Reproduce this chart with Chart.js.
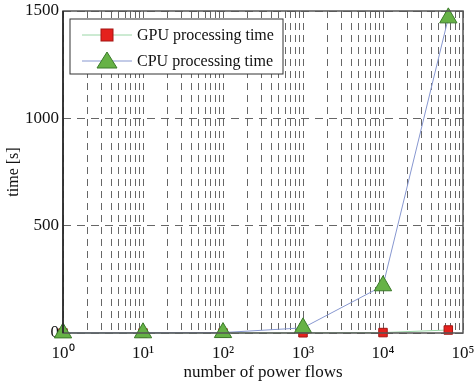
<!DOCTYPE html>
<html>
<head>
<meta charset="utf-8">
<script src="https://cdn.jsdelivr.net/npm/chart.js@4/dist/chart.umd.min.js"></script>
<style>
    html, body { margin: 0; padding: 0; background: #fff; }
    #wrap { width: 474px; height: 385px; }
</style>
</head>
<body>
<div id="wrap"><canvas id="timeChart" width="474" height="385"></canvas></div>
<script>
// Processing time vs number of power flows
const powerFlows = [1, 10, 100, 1000, 10000, 65536];
const gpuTime = [0.2, 0.3, 0.5, 1, 2, 14];
const cpuTime = [0.5, 1, 2, 24, 220, 1468];
const seriesNames = ['GPU processing time', 'CPU processing time'];
const yTicks = [0, 500, 1000, 1500];
const xTickLabels = ['10\u2070', '10\u00b9', '10\u00b2', '10\u00b3', '10\u2074', '10\u2075'];

const serif = '"Liberation Serif", "Times New Roman", serif';

// frame round the plot area + boxed legend inside it
const framePlugin = {
    id: 'frame',
    afterDraw(chart) {
        const ctx = chart.ctx;
        const a = chart.chartArea;
        ctx.save();
        ctx.strokeStyle = '#555';
        ctx.lineWidth = 1.5;
        ctx.strokeRect(a.left, a.top, a.right - a.left, a.bottom - a.top);
        ctx.strokeStyle = '#222';
        ctx.beginPath();
        ctx.moveTo(a.left, a.top);
        ctx.lineTo(a.left, a.bottom);
        ctx.stroke();

        // legend
        const lx = a.left + 7, ly = a.top + 8, lw = 213, lh = 55;
        ctx.fillStyle = '#fff';
        ctx.fillRect(lx, ly, lw, lh);
        ctx.strokeStyle = '#333';
        ctx.lineWidth = 1;
        ctx.strokeRect(lx, ly, lw, lh);
        chart.data.datasets.forEach((ds, i) => {
            const y = ly + 16 + i * 26;
            ctx.strokeStyle = ds.borderColor;
            ctx.lineWidth = 1;
            ctx.beginPath();
            ctx.moveTo(lx + 12, y);
            ctx.lineTo(lx + 62, y);
            ctx.stroke();
            ctx.fillStyle = ds.pointBackgroundColor;
            ctx.strokeStyle = ds.pointBorderColor;
            const cx = lx + 37;
            if (ds.pointStyle === 'rect') {
                ctx.fillRect(cx - 6, y - 6, 12, 12);
                ctx.strokeRect(cx - 6, y - 6, 12, 12);
            } else {
                ctx.beginPath();
                ctx.moveTo(cx, y - 9);
                ctx.lineTo(cx + 10, y + 7);
                ctx.lineTo(cx - 10, y + 7);
                ctx.closePath();
                ctx.fill();
                ctx.stroke();
            }
            ctx.fillStyle = '#111';
            ctx.font = '16px ' + serif;
            ctx.textBaseline = 'middle';
            ctx.textAlign = 'left';
            ctx.fillText(ds.label, lx + 67, y + 1);
        });
        ctx.restore();
    }
};

new Chart(document.getElementById('timeChart'), {
    type: 'line',
    data: {
        datasets: [
            {
                label: seriesNames[0],
                data: powerFlows.map((x, i) => ({ x: x, y: gpuTime[i] })),
                borderColor: '#9ad6a6',
                borderWidth: 1,
                pointStyle: 'rect',
                pointRadius: 6,
                pointBackgroundColor: '#e5211d',
                pointBorderColor: '#a31512',
                pointBorderWidth: 1,
                order: 2
            },
            {
                label: seriesNames[1],
                data: powerFlows.map((x, i) => ({ x: x, y: cpuTime[i] })),
                borderColor: '#8797d0',
                borderWidth: 1,
                pointStyle: 'triangle',
                pointRadius: 10,
                pointBackgroundColor: '#66b246',
                pointBorderColor: '#3b7a2a',
                pointBorderWidth: 1,
                order: 1
            }
        ]
    },
    options: {
        responsive: false,
        animation: false,
        clip: false,
        layout: { padding: { top: 9, right: 11, left: 4, bottom: 0 } },
        plugins: {
            legend: { display: false },
            tooltip: { enabled: false }
        },
        scales: {
            x: {
                type: 'logarithmic',
                min: 1,
                max: 100000,
                afterFit(scale) {
                    scale.height = 52;
                    scale.paddingLeft = 0;
                    scale.paddingRight = 0;
                },
                afterBuildTicks(scale) {
                    const t = [];
                    for (let e = 0; e < 5; e++) {
                        for (let m = 1; m < 10; m++) t.push({ value: m * Math.pow(10, e) });
                    }
                    t.push({ value: 100000 });
                    scale.ticks = t;
                },
                ticks: {
                    autoSkip: false,
                    maxRotation: 0,
                    padding: 10,
                    color: '#111',
                    font: { family: serif, size: 17 },
                    callback(v) {
                        const e = Math.log10(v);
                        if (Math.abs(e - Math.round(e)) < 1e-9) return xTickLabels[Math.round(e)];
                        return '';
                    }
                },
                grid: {
                    color: '#666',
                    lineWidth: 1,
                    drawTicks: false
                },
                border: { display: false, dash: [7, 5] },
                title: {
                    display: true,
                    text: 'number of power flows',
                    color: '#111',
                    font: { family: serif, size: 17 },
                    padding: { top: 0, bottom: 2 }
                }
            },
            y: {
                min: 0,
                max: 1500,
                afterFit(scale) {
                    scale.width = 59;
                    scale.paddingTop = 0;
                    scale.paddingBottom = 0;
                },
                afterBuildTicks(scale) {
                    scale.ticks = yTicks.map(v => ({ value: v }));
                },
                ticks: {
                    padding: 4,
                    color: '#111',
                    font: { family: serif, size: 17, lineHeight: 1 },
                    callback(v) { return String(v); }
                },
                grid: {
                    color: '#666',
                    lineWidth: 1,
                    drawTicks: false
                },
                border: { display: false, dash: [8, 6] },
                title: {
                    display: true,
                    text: 'time [s]',
                    color: '#111',
                    font: { family: serif, size: 16 },
                    padding: { top: 0, bottom: 4 }
                }
            }
        }
    },
    plugins: [framePlugin]
});
</script>
</body>
</html>
